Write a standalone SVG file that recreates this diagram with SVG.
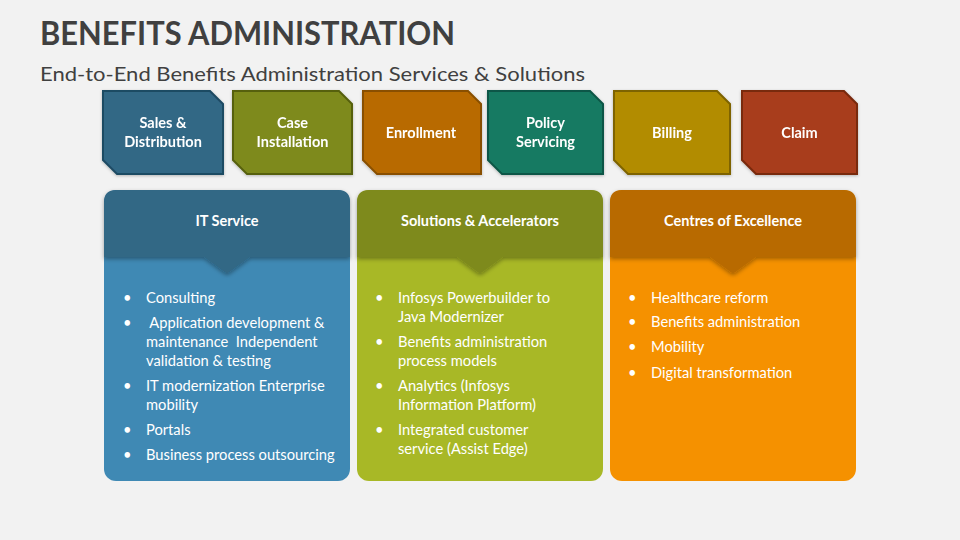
<svg xmlns="http://www.w3.org/2000/svg" width="960" height="540" viewBox="0 0 960 540">
<defs>
<filter id="sh" x="-10%" y="-10%" width="120%" height="140%">
<feDropShadow dx="0" dy="2" stdDeviation="2" flood-color="#000" flood-opacity="0.35"/>
</filter>
<filter id="sh2" x="-10%" y="-10%" width="120%" height="130%">
<feDropShadow dx="0" dy="1" stdDeviation="1.5" flood-color="#000" flood-opacity="0.25"/>
</filter>
</defs>
<style>
.title{font-family:Lato,"Liberation Sans",sans-serif;font-weight:bold;font-size:33px;fill:#404040;}
.sub{font-family:Lato,"Liberation Sans",sans-serif;font-size:20px;fill:#404040;}
.bx{stroke-width:2;}
.bt{font-family:Lato,"Liberation Sans",sans-serif;font-weight:bold;font-size:14.5px;fill:#fff;text-anchor:middle;}
.ht{font-family:Lato,"Liberation Sans",sans-serif;font-weight:bold;font-size:14.5px;fill:#fff;text-anchor:middle;}
.li{font-family:Lato,"Liberation Sans",sans-serif;font-size:14.7px;fill:#fff;}
</style>
<rect width="960" height="540" fill="#f2f2f2"/>
<text class="title" x="40" y="45" textLength="415" lengthAdjust="spacingAndGlyphs">BENEFITS ADMINISTRATION</text>
<text class="sub" x="40" y="81" textLength="545" lengthAdjust="spacingAndGlyphs">End-to-End Benefits Administration Services &amp; Solutions</text>

<g id="box-sales" filter="url(#sh2)">
<path class="bx" d="M103,91 H210 L223,104 V174 H117 L103,160 Z" fill="#316785" stroke="#1f4b63"/>
<text class="bt" x="163" y="128">Sales &amp;</text>
<text class="bt" x="163" y="147">Distribution</text>
</g>
<g id="box-case" filter="url(#sh2)">
<path class="bx" d="M233,91 H339 L352,104 V174 H247 L233,160 Z" fill="#7e8a1f" stroke="#56600f"/>
<text class="bt" x="292.5" y="128">Case</text>
<text class="bt" x="292.5" y="147">Installation</text>
</g>
<g id="box-enrollment" filter="url(#sh2)">
<path class="bx" d="M363,91 H468 L481,104 V174 H377 L363,160 Z" fill="#b86b00" stroke="#895000"/>
<text class="bt" x="421" y="138">Enrollment</text>
</g>
<g id="box-policy" filter="url(#sh2)">
<path class="bx" d="M488,91 H590 L603,104 V174 H502 L488,160 Z" fill="#187a62" stroke="#0e5747"/>
<text class="bt" x="545.5" y="128">Policy</text>
<text class="bt" x="545.5" y="147">Servicing</text>
</g>
<g id="box-billing" filter="url(#sh2)">
<path class="bx" d="M614,91 H717 L730,104 V174 H628 L614,160 Z" fill="#b28c06" stroke="#7e6404"/>
<text class="bt" x="672" y="138">Billing</text>
</g>
<g id="box-claim" filter="url(#sh2)">
<path class="bx" d="M742,91 H844 L857,104 V174 H756 L742,160 Z" fill="#a83c1a" stroke="#782a10"/>
<text class="bt" x="799.5" y="138">Claim</text>
</g>

<g id="panel-it">
<rect x="104" y="190" width="246" height="291" rx="12" fill="#3f89b4"/>
<path d="M104,257 V202 Q104,190 116,190 H338 Q350,190 350,202 V257 H250 L229.5,272 Q227,274 224.5,272 L204,257 Z" fill="#316785" filter="url(#sh)"/>
<text class="ht" x="227" y="226">IT Service</text>
<g class="li">
<text x="123" y="303">•</text><text x="146" y="303">Consulting</text>
<text x="123" y="328">•</text><text x="146" y="328">&#160;Application development &amp;</text>
<text x="146" y="347">maintenance &#160;Independent</text>
<text x="146" y="366">validation &amp; testing</text>
<text x="123" y="391">•</text><text x="146" y="391">IT modernization Enterprise</text>
<text x="146" y="410">mobility</text>
<text x="123" y="435">•</text><text x="146" y="435">Portals</text>
<text x="123" y="460">•</text><text x="146" y="460">Business process outsourcing</text>
</g>
</g>

<g id="panel-solutions">
<rect x="357" y="190" width="246" height="291" rx="12" fill="#a8b826"/>
<path d="M357,257 V202 Q357,190 369,190 H591 Q603,190 603,202 V257 H503 L482.5,272 Q480,274 477.5,272 L457,257 Z" fill="#7e8a1f" filter="url(#sh)"/>
<text class="ht" x="480" y="226">Solutions &amp; Accelerators</text>
<g class="li">
<text x="375" y="303">•</text><text x="398" y="303">Infosys Powerbuilder to</text>
<text x="398" y="322">Java Modernizer</text>
<text x="375" y="347">•</text><text x="398" y="347">Benefits administration</text>
<text x="398" y="366">process models</text>
<text x="375" y="391">•</text><text x="398" y="391">Analytics (Infosys</text>
<text x="398" y="410">Information Platform)</text>
<text x="375" y="435">•</text><text x="398" y="435">Integrated customer</text>
<text x="398" y="454">service (Assist Edge)</text>
</g>
</g>

<g id="panel-coe">
<rect x="610" y="190" width="246" height="291" rx="12" fill="#f59100"/>
<path d="M610,257 V202 Q610,190 622,190 H844 Q856,190 856,202 V257 H756 L735.5,272 Q733,274 730.5,272 L710,257 Z" fill="#b86b00" filter="url(#sh)"/>
<text class="ht" x="733" y="226">Centres of Excellence</text>
<g class="li">
<text x="628" y="303">•</text><text x="651" y="303">Healthcare reform</text>
<text x="628" y="327">•</text><text x="651" y="327">Benefits administration</text>
<text x="628" y="352">•</text><text x="651" y="352">Mobility</text>
<text x="628" y="378">•</text><text x="651" y="378">Digital transformation</text>
</g>
</g>

<g id="connectors"></g>
</svg>
